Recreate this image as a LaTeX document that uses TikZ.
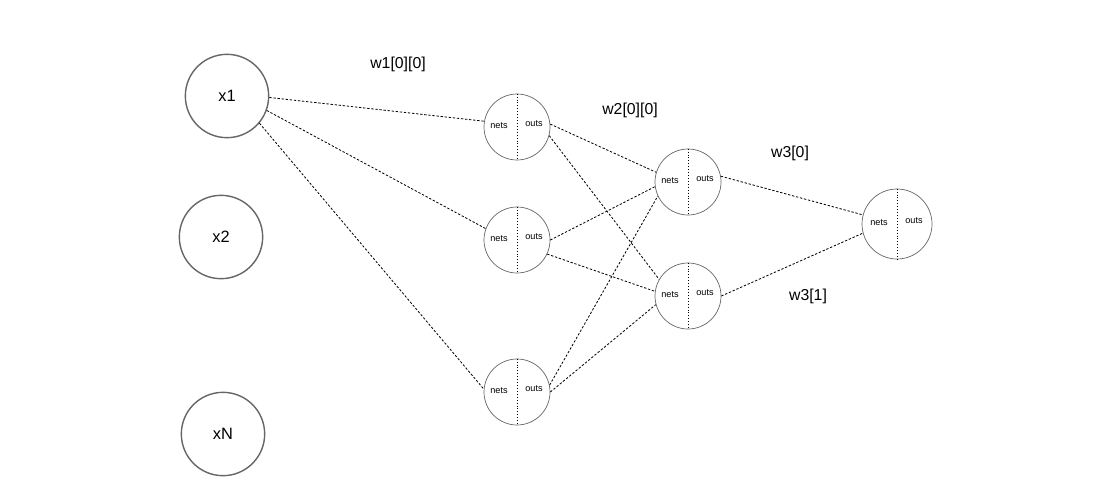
\documentclass[tikz,border=0pt]{standalone}
\usepackage{fontspec}
\setmainfont{Liberation Sans}
\usetikzlibrary{calc}
\begin{document}
\begin{tikzpicture}[x=0.03cm,y=-0.03cm,
  inp/.style={circle,draw=black!60,line width=1.2pt,minimum size=2.5cm,inner sep=0pt,font=\fontsize{14}{16}\selectfont},
  neu/.style={circle,draw=black!60,line width=0.6pt,minimum size=1.98cm,inner sep=0pt},
  big/.style={neu,minimum size=2.1cm},
  small/.style={font=\fontsize{7.8}{9}\selectfont},
  lab/.style={font=\fontsize{13.5}{15}\selectfont},
  conn/.style={dash pattern=on 2pt off 1.5pt,line width=0.7pt}]
\useasboundingbox (0,0) rectangle (1104,500);
\node[inp] (x1) at (227,96) {x1};
\node[inp] (x2) at (221,237) {x2};
\node[inp] (xN) at (223,434) {xN};
\foreach \n/\x/\y/\s in {A/517/127/neu,B/517/240/neu,C/517/392/neu,D/688/182/neu,E/688/296/neu,F/897/224/big}{
  \node[\s] (\n) at (\x,\y) {};
  \draw[dotted,line width=0.5pt] (\n.north) -- (\n.south);
  \node[small] (\n l) at ($(\n)+(-18,-1)$) {nets};
  \node[small] (\n r) at ($(\n)+(17,-3)$) {outs};
}
\node[lab] (l1) at (398,64) {w1[0][0]};
\node[lab] (l2) at (630,110) {w2[0][0]};
\node[lab] (l3) at (790,153) {w3[0]};
\node[lab] (l4) at (808,296) {w3[1]};
\draw[conn] (x1.-2) -- (A.170);
\draw[conn] (x1.-20) -- (B.160);
\draw[conn] (x1.-40) -- (C.175);
\draw[conn] (A.5) -- (D.163);
\draw[conn] (A.-15) -- (E.150);
\draw[conn] (B.0) -- (D.188);
\draw[conn] (B.-25) -- (E.172);
\draw[conn] (C.12) -- (D.205);
\draw[conn] (C.0) -- (E.195);
\draw[conn] (D.10) -- (F.165);
\draw[conn] (E.0) -- (F.195);
\end{tikzpicture}
\end{document}
